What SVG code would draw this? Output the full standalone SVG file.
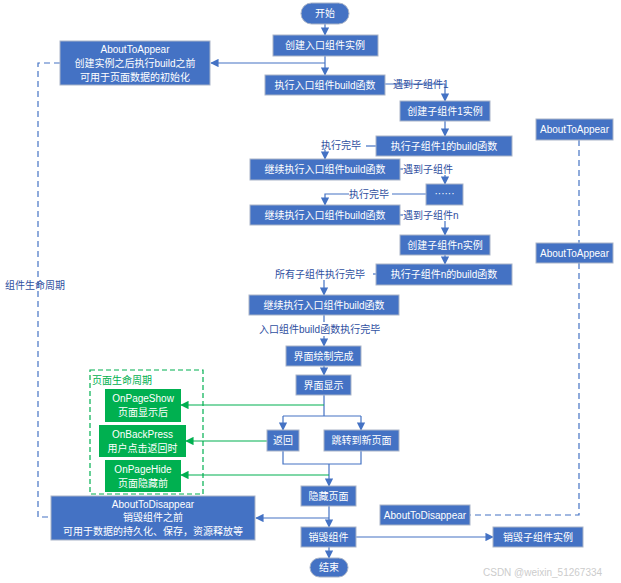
<svg xmlns="http://www.w3.org/2000/svg" width="621" height="583" viewBox="0 0 621 583">
<defs>
<style>
.b{fill:#4472C4;stroke:#A9B4C8;stroke-width:1}
.g{fill:#00B050}
.t{font-family:"Liberation Sans","Noto Sans CJK SC",sans-serif;font-size:10px;fill:#fff;text-anchor:middle;dominant-baseline:central}
.l{font-family:"Liberation Sans","Noto Sans CJK SC",sans-serif;font-size:10px;fill:#2F4F9F;dominant-baseline:central}
.c{fill:none;stroke:#4472C4;stroke-width:1.2}
.cg{fill:none;stroke:#00B050;stroke-width:1.2}
.d{fill:none;stroke:#4472C4;stroke-width:1.2;stroke-dasharray:6,4}
</style>
<marker id="a" viewBox="0 0 10 10" refX="9" refY="5" markerWidth="7" markerHeight="7" orient="auto"><path d="M0,0L10,5L0,10z" fill="#4472C4"/></marker>
<marker id="ag" viewBox="0 0 10 10" refX="9" refY="5" markerWidth="7" markerHeight="7" orient="auto"><path d="M0,0L10,5L0,10z" fill="#00B050"/></marker>
</defs>
<rect width="621" height="583" fill="#fff"/>
<g id="connectors">
<path class="c" d="M325,24V35" marker-end="url(#a)"/>
<path class="c" d="M325,56V75" marker-end="url(#a)"/>
<path class="c" d="M325,63H211" marker-end="url(#a)"/>
<path class="c" d="M385,84H445V101" marker-end="url(#a)"/>
<path class="c" d="M445,121V136" marker-end="url(#a)"/>
<path class="c" d="M376,146H366"/>
<path class="c" d="M325,150V159" marker-end="url(#a)"/>
<path class="c" d="M400,169H403"/>
<path class="c" d="M445,175V184" marker-end="url(#a)"/>
<path class="c" d="M426,194H392M349,194H325V205" marker-end="url(#a)"/>
<path class="c" d="M400,215H403"/>
<path class="c" d="M445,221V235" marker-end="url(#a)"/>
<path class="c" d="M445,255V264" marker-end="url(#a)"/>
<path class="c" d="M376,274H373"/>
<path class="c" d="M324,280V295" marker-end="url(#a)"/>
<path class="c" d="M324,315V322M324,336V346" marker-end="url(#a)"/>
<path class="c" d="M324,366V375" marker-end="url(#a)"/>
<path class="c" d="M324,395V416M283,416H361M283,416V430" marker-end="url(#a)"/>
<path class="c" d="M361,416V430" marker-end="url(#a)"/>
<path class="c" d="M283,451V464H361V451M329,464V486" marker-end="url(#a)"/>
<path class="cg" d="M324,405H181" marker-end="url(#ag)"/>
<path class="cg" d="M267,441H186" marker-end="url(#ag)"/>
<path class="cg" d="M329,475H181" marker-end="url(#ag)"/>
<path class="c" d="M329,506V527" marker-end="url(#a)"/>
<path class="c" d="M329,518H256" marker-end="url(#a)"/>
<path class="c" d="M356,537H493" marker-end="url(#a)"/>
<path class="c" d="M329,547V558" marker-end="url(#a)"/>
<path class="d" d="M60,63H38V517H51"/>
<path class="d" d="M579,140V243M579,263V515H470"/>
<rect x="90" y="370" width="113" height="124" fill="none" stroke="#00B050" stroke-width="1.2" stroke-dasharray="5,3"/>
</g>
<g id="labels">
<text class="l" x="393" y="84">遇到子组件1</text>
<text class="l" x="321" y="145">执行完毕</text>
<text class="l" x="403" y="169">遇到子组件</text>
<text class="l" x="349" y="194">执行完毕</text>
<text class="l" x="403" y="215">遇到子组件n</text>
<text class="l" x="275" y="274">所有子组件执行完毕</text>
<text class="l" x="259" y="329">入口组件build函数执行完毕</text>
<text class="l" x="5" y="285">组件生命周期</text>
<text x="92" y="380" font-family="Liberation Sans,'Noto Sans CJK SC',sans-serif" font-size="10" fill="#00B050" dominant-baseline="central">页面生命周期</text>
<text x="483" y="572" font-family="Liberation Sans,sans-serif" font-size="10" fill="#ccc" dominant-baseline="central">CSDN @weixin_51267334</text>
</g>
<g id="start"><rect class="b" x="301" y="3" width="48" height="21" rx="10.5"/><text class="t" x="325" y="13.5">开始</text></g>
<g id="n1"><rect class="b" x="273" y="35" width="105" height="21"/><text class="t" x="325" y="45.5">创建入口组件实例</text></g>
<g id="ata1"><rect class="b" x="60" y="41" width="150" height="44"/><text class="t" x="135" y="49">AboutToAppear</text><text class="t" x="135" y="63">创建实例之后执行build之前</text><text class="t" x="135" y="77">可用于页面数据的初始化</text></g>
<g id="n2"><rect class="b" x="265" y="75" width="120" height="20"/><text class="t" x="325" y="85">执行入口组件build函数</text></g>
<g id="n3"><rect class="b" x="400" y="101" width="90" height="20"/><text class="t" x="445" y="111">创建子组件1实例</text></g>
<g id="n4"><rect class="b" x="376" y="136" width="136" height="20"/><text class="t" x="444" y="146">执行子组件1的build函数</text></g>
<g id="n5"><rect class="b" x="250" y="159" width="150" height="21"/><text class="t" x="325" y="169.5">继续执行入口组件build函数</text></g>
<g id="n6"><rect class="b" x="426" y="184" width="37" height="21"/><text class="t" x="444.5" y="193">······</text></g>
<g id="n7"><rect class="b" x="250" y="205" width="150" height="20"/><text class="t" x="325" y="215">继续执行入口组件build函数</text></g>
<g id="n8"><rect class="b" x="400" y="235" width="90" height="20"/><text class="t" x="445" y="245">创建子组件n实例</text></g>
<g id="n9"><rect class="b" x="376" y="264" width="136" height="21"/><text class="t" x="444" y="274.5">执行子组件n的build函数</text></g>
<g id="ata2"><rect class="b" x="536" y="119" width="77" height="21"/><text class="t" x="574.5" y="129.5">AboutToAppear</text></g>
<g id="ata3"><rect class="b" x="536" y="243" width="77" height="20"/><text class="t" x="574.5" y="253">AboutToAppear</text></g>
<g id="n10"><rect class="b" x="249" y="295" width="150" height="20"/><text class="t" x="324" y="305">继续执行入口组件build函数</text></g>
<g id="n11"><rect class="b" x="286" y="346" width="75" height="20"/><text class="t" x="323.5" y="356">界面绘制完成</text></g>
<g id="n12"><rect class="b" x="296" y="375" width="55" height="20"/><text class="t" x="323.5" y="385">界面显示</text></g>
<g id="ps"><rect class="g" x="105" y="389" width="76" height="33"/><text class="t" x="143" y="398">OnPageShow</text><text class="t" x="143" y="412">页面显示后</text></g>
<g id="bp"><rect class="g" x="99" y="425" width="87" height="32"/><text class="t" x="142.5" y="434">OnBackPress</text><text class="t" x="142.5" y="448">用户点击返回时</text></g>
<g id="ph"><rect class="g" x="105" y="460" width="76" height="32"/><text class="t" x="143" y="469">OnPageHide</text><text class="t" x="143" y="483">页面隐藏前</text></g>
<g id="n13"><rect class="b" x="267" y="430" width="32" height="21"/><text class="t" x="283" y="440.5">返回</text></g>
<g id="n14"><rect class="b" x="324" y="430" width="75" height="21"/><text class="t" x="361.5" y="440.5">跳转到新页面</text></g>
<g id="n15"><rect class="b" x="301" y="486" width="55" height="20"/><text class="t" x="328.5" y="496">隐藏页面</text></g>
<g id="atd1"><rect class="b" x="51" y="496" width="204" height="44"/><text class="t" x="153" y="504">AboutToDisappear</text><text class="t" x="153" y="517">销毁组件之前</text><text class="t" x="153" y="531">可用于数据的持久化、保存，资源释放等</text></g>
<g id="atd2"><rect class="b" x="380" y="505" width="90" height="20"/><text class="t" x="425" y="515">AboutToDisappear</text></g>
<g id="n16"><rect class="b" x="301" y="527" width="55" height="20"/><text class="t" x="328.5" y="537">销毁组件</text></g>
<g id="n17"><rect class="b" x="493" y="527" width="90" height="20"/><text class="t" x="538" y="537">销毁子组件实例</text></g>
<g id="end"><rect class="b" x="310" y="558" width="38" height="19" rx="9.5"/><text class="t" x="329" y="567.5">结束</text></g>
</svg>
